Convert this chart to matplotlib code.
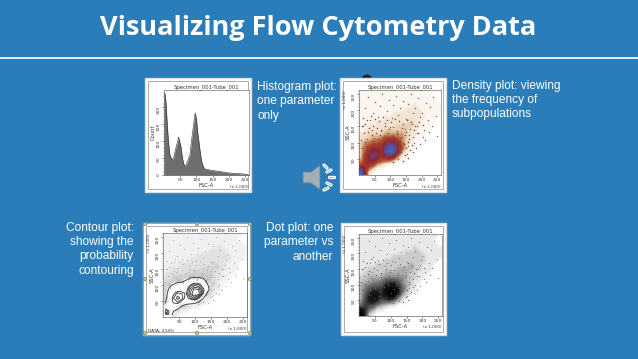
import numpy as np
import matplotlib
matplotlib.use('Agg')
import matplotlib.pyplot as plt
from matplotlib.colors import LinearSegmentedColormap
from matplotlib.patches import Rectangle, Polygon, Circle

W, H = 638, 359
BG = '#2a7db8'

title = 'Visualizing Flow Cytometry Data'
plot_title = 'Specimen_001-Tube_001'

# histogram: FSC-A (x 1000) and count
hist_x = [0, 3, 6, 9, 12, 15, 18, 22, 26, 30, 34, 38, 41, 45, 48, 52, 56, 60, 64, 68, 72, 76, 80,
          84, 88, 92, 96, 100, 104, 108, 112, 116, 120, 125, 130, 140, 150, 160, 170, 180, 190,
          200, 215, 230, 245, 260]
hist_y = [235, 240, 215, 165, 120, 85, 60, 50, 45, 52, 70, 85, 95, 112, 100, 85, 55, 35, 26, 30,
          38, 50, 60, 95, 125, 155, 183, 165, 125, 95, 65, 40, 28, 18, 17, 15, 13, 12, 11, 9, 8,
          6, 5, 4, 3, 2]
hist_ticks = [0, 50, 100, 150, 200]
fsc_ticks = [50, 100, 150, 200, 250]
ssc_ticks = [50, 100, 150, 200, 250]

# density of events, FSC across (0-262), SSC down from 262 to 0
events = np.array([
    [1, 1, 1, 1, 1, 1, 1, 1, 1, 1, 1, 1, 1, 1, 1, 1, 1, 1, 1, 0],
    [1, 1, 1, 1, 1, 1, 1, 1, 1, 1, 1, 1, 1, 1, 1, 1, 1, 1, 0, 0],
    [1, 1, 1, 1, 1, 1, 1, 1, 1, 1, 1, 1, 1, 1, 1, 1, 1, 1, 1, 0],
    [1, 1, 1, 1, 1, 1, 1, 1, 1, 1, 1, 1, 1, 2, 1, 1, 1, 1, 1, 1],
    [1, 1, 1, 1, 1, 1, 1, 1, 1, 1, 1, 2, 2, 2, 2, 1, 1, 1, 1, 1],
    [1, 1, 1, 1, 1, 1, 1, 1, 2, 2, 2, 2, 2, 2, 2, 2, 1, 1, 1, 1],
    [1, 1, 1, 1, 1, 1, 2, 2, 2, 2, 2, 2, 2, 2, 2, 2, 1, 1, 1, 0],
    [1, 1, 1, 1, 2, 2, 2, 2, 2, 2, 2, 2, 3, 2, 2, 1, 1, 1, 0, 0],
    [1, 1, 2, 2, 2, 2, 2, 2, 2, 3, 3, 3, 3, 2, 2, 1, 1, 1, 0, 0],
    [1, 2, 2, 2, 2, 2, 3, 3, 3, 3, 3, 3, 2, 2, 1, 1, 1, 0, 0, 0],
    [2, 2, 3, 3, 3, 3, 4, 4, 4, 4, 4, 3, 2, 2, 1, 1, 0, 0, 0, 0],
    [2, 3, 3, 4, 4, 5, 7, 8, 8, 6, 4, 3, 2, 1, 1, 0, 0, 0, 0, 0],
    [3, 4, 5, 6, 6, 7, 11, 14, 13, 9, 5, 3, 2, 1, 0, 0, 0, 0, 0, 0],
    [3, 5, 7, 9, 9, 9, 15, 19, 18, 12, 6, 3, 1, 1, 0, 0, 0, 0, 0, 0],
    [3, 6, 10, 13, 12, 10, 16, 21, 19, 11, 4, 2, 1, 0, 0, 0, 0, 0, 0, 0],
    [3, 7, 12, 15, 13, 9, 12, 15, 11, 5, 2, 1, 0, 0, 0, 0, 0, 0, 0, 0],
    [4, 8, 11, 12, 9, 6, 6, 6, 4, 2, 1, 0, 0, 0, 0, 0, 0, 0, 0, 0],
    [6, 9, 8, 7, 4, 3, 2, 1, 1, 0, 0, 0, 0, 0, 0, 0, 0, 0, 0, 0],
    [14, 10, 5, 3, 1, 1, 0, 0, 0, 0, 0, 0, 0, 0, 0, 0, 0, 0, 0, 0],
    [22, 9, 2, 1, 0, 0, 0, 0, 0, 0, 0, 0, 0, 0, 0, 0, 0, 0, 0, 0],
], dtype=float)

sparse_fsc = [30, 52, 74, 95, 118, 140, 165, 190, 215, 238, 20, 44, 66, 88, 110, 132, 155, 178, 200, 226,
              35, 60, 82, 104, 126, 150, 172, 196, 220, 246, 14, 40, 70, 98, 122, 146, 168, 186, 208, 232,
              48, 78, 108, 136, 160, 184, 204, 224, 250, 92, 116, 142, 176, 212, 128, 158, 194, 174, 152, 182]
sparse_ssc = [240, 225, 250, 232, 244, 228, 250, 236, 222, 240, 205, 190, 212, 198, 215, 205, 220, 208, 192, 210,
              170, 180, 160, 175, 185, 172, 190, 178, 168, 182, 150, 140, 135, 148, 130, 142, 156, 150, 140, 152,
              115, 112, 125, 118, 124, 128, 118, 132, 120, 100, 105, 98, 100, 108, 85, 88, 96, 72, 65, 84]

# events in the busier band around the two populations
band_fsc = [12, 25, 38, 50, 63, 76, 89, 102, 115, 128, 141, 154, 167, 180, 193, 206,
            8, 20, 33, 46, 58, 71, 84, 97, 110, 123, 136, 149, 162, 175, 188,
            16, 29, 42, 55, 68, 81, 94, 107, 120, 133, 146, 159, 172,
            6, 19, 27, 44, 61, 74, 92, 105, 118, 131, 144, 157, 170,
            10, 23, 36, 52, 66, 79, 112, 125, 138, 151, 164,
            14, 31, 48, 64, 86, 100, 121, 134, 147,
            40, 70, 108, 126, 140, 155]
band_ssc = [176, 168, 182, 172, 166, 178, 170, 162, 174, 166, 158, 170, 162, 150, 162, 154,
            150, 156, 144, 152, 146, 138, 150, 142, 148, 136, 146, 132, 142, 138, 128,
            128, 134, 122, 130, 124, 118, 128, 120, 126, 114, 124, 110, 118,
            108, 102, 112, 104, 110, 98, 106, 116, 100, 108, 96, 102, 94,
            84, 90, 82, 88, 78, 92, 86, 90, 80, 84, 76,
            62, 68, 58, 64, 60, 72, 66, 70, 62,
            34, 42, 40, 48, 44, 52]

labels = [
    ('Histogram plot:\none parameter\nonly', 257, 81, 'left'),
    ('Density plot: viewing\nthe frequency of\nsubpopulations', 452, 80, 'left'),
    ('Contour plot:\nshowing the\nprobability\ncontouring', 134, 222, 'right'),
    ('Dot plot: one\nparameter vs\nanother', 333, 222, 'right'),
]

density_cmap = LinearSegmentedColormap.from_list(
    'density', [(0, '#ffffff'), (0.06, '#f9f3ea'), (0.13, '#ead2b6'), (0.2, '#c27c52'), (0.3, '#a8402c'),
                (0.5, '#8e2430'), (0.72, '#5a4a9a'), (1, '#3c6ac8')])
dot_cmap = LinearSegmentedColormap.from_list(
    'dots', [(0, '#ffffff'), (0.06, '#e2e2e2'), (0.25, '#707070'), (0.55, '#1c1c1c'), (1, '#000000')])
grey_cmap = LinearSegmentedColormap.from_list('grey', ['#ffffff', '#b5b5b5'])


def px_axes(fig, x0, y0, x1, y1):
    return fig.add_axes([x0 / W, 1 - y1 / H, (x1 - x0) / W, (y1 - y0) / H])


def panel(fig, bg, box, plot, ylabel, xlabel, yticks, ymax):
    # white picture with thin grey frame, then the FACS axes inside it
    x0, y0, x1, y1 = box
    bg.add_patch(Rectangle((x0, y0), x1 - x0, y1 - y0, fc='white', ec='#dddddd', lw=1))
    bg.add_patch(Rectangle((x0 + 3, y0 + 3), x1 - x0 - 6, y1 - y0 - 6, fc='none', ec='#8a8a8a', lw=0.5))
    ax = px_axes(fig, *plot)
    ax.set_xlim(0, 262)
    ax.set_ylim(0, ymax)
    ax.set_xticks(fsc_ticks)
    ax.set_yticks(yticks)
    ax.set_xticks(np.arange(10, 262, 10), minor=True)
    ax.set_yticks(np.arange(0, ymax, 10), minor=True)
    ax.tick_params(labelsize=3.2, length=1.6, width=0.4, pad=0.6, colors='#333333')
    ax.tick_params(which='minor', length=0.9, width=0.3, colors='#555555')
    ax.tick_params(axis='y', labelrotation=90)
    for s in ax.spines.values():
        s.set_linewidth(0.4)
        s.set_color('#555555')
    ax.set_title(plot_title, fontsize=3.8, pad=1.2, color='#333333')
    ax.set_xlabel(xlabel, fontsize=3.8, labelpad=0.4, color='#333333')
    ax.set_ylabel(ylabel, fontsize=3.8, labelpad=0.8, color='#333333')
    ax.text(1.0, -0.14, '(x 1,000)', transform=ax.transAxes, fontsize=3.0, ha='right', va='center', color='#333333')
    if yticks is ssc_ticks:
        ax.text(-0.17, 1.0, '(x 1,000)', transform=ax.transAxes, fontsize=3.0, rotation=90, ha='center', va='top', color='#333333')
    return ax


def speaker(bg):
    bg.add_patch(Polygon([(303, 172), (311, 172), (320, 165), (320, 190), (311, 183), (303, 183)],
                         closed=True, fc='#a3aeb7', ec='#5c7f9c', lw=0.6))
    for (xa, ya, xb, yb) in [(324, 165, 327, 168), (327, 172, 331, 170), (329, 177, 334, 177),
                             (327, 183, 331, 185), (324, 190, 328, 188)]:
        bg.plot([xa, xb], [ya, yb], color='white', lw=2.4, solid_capstyle='round')
        bg.plot([xa, xb], [ya, yb], color='#7f95a8', lw=0.5)


def main():
    fig = plt.figure(figsize=(W / 100, H / 100), dpi=100, facecolor=BG)
    bg = fig.add_axes([0, 0, 1, 1])
    bg.set_xlim(0, W)
    bg.set_ylim(H, 0)
    bg.axis('off')

    bg.text(318.5, 28, title, color='white', fontsize=19.5, fontweight='bold', family='Open Sans', ha='center', va='center')
    bg.plot([0, W], [58, 58], color='white', lw=1.2)

    for text, x, y, ha in labels:
        bg.text(x, y, text, color='white', fontsize=8.6, family='Liberation Sans', ha=ha, va='top', linespacing=1.25)

    speaker(bg)

    # histogram
    ax = panel(fig, bg, (145, 78, 251, 192), (164, 90, 249, 175), 'Count', 'FSC-A', hist_ticks, 250)
    ax.fill_between(hist_x, hist_y, color='#6e6e6e', lw=0)
    ax.plot(hist_x, hist_y, color='#333333', lw=0.4)

    extent = [0, 262, 0, 262]

    # density
    bg.add_patch(Circle((367, 80), 5.5, fc='#1c2630', ec='none'))
    ax = panel(fig, bg, (340, 78, 446, 192), (359, 90, 441, 175), 'SSC-A', 'FSC-A', ssc_ticks, 262)
    ax.imshow(events, extent=extent, aspect='auto', cmap=density_cmap, vmin=0, vmax=22, interpolation='bilinear')
    ax.scatter(sparse_fsc, sparse_ssc, s=1.0, color='#8a5a3a', lw=0)
    ax.scatter(band_fsc, band_ssc, s=1.2, color='#8a4a30', lw=0)

    # contour: dots outside the outer line, white inside it
    ax = panel(fig, bg, (143, 223, 250, 335), (163, 233, 247, 317), 'SSC-A', 'FSC-A', ssc_ticks, 262)
    outside = np.where(events >= 5, 0, events)
    ax.imshow(outside, extent=extent, aspect='auto', cmap=grey_cmap, vmin=0, vmax=5, interpolation='bilinear')
    ax.scatter(sparse_fsc, sparse_ssc, s=0.6, color='#a0a0a0', lw=0)
    ax.scatter(band_fsc, band_ssc, s=0.6, color='#a0a0a0', lw=0)
    xs = (np.arange(20) + 0.5) * 262 / 20
    ys = 262 - (np.arange(20) + 0.5) * 262 / 20
    ax.contour(xs, ys, events, levels=[4.5, 10.5, 12, 14, 16, 18], colors='#333333', linewidths=0.6)
    bg.text(148, 331, 'DATA, 2345)', fontsize=3.2, ha='left', va='center', color='#333333', zorder=6)
    bg.add_patch(Rectangle((143, 223), 107, 112, fc='none', ec='#9a9a9a', lw=0.6))
    for hx in (145, 197, 250):
        for hy in (224, 279, 333):
            if hx != 197 or hy != 279:
                bg.add_patch(Circle((hx, hy), 1.7, fc='#b9c98a', ec='#6f7d4a', lw=0.4, zorder=6))

    # dot
    ax = panel(fig, bg, (341, 223, 446, 335), (359, 234, 442, 316), 'SSC-A', 'FSC-A', ssc_ticks, 262)
    ax.imshow(events, extent=extent, aspect='auto', cmap=dot_cmap, vmin=0, vmax=20, interpolation='bilinear')
    ax.scatter(sparse_fsc, sparse_ssc, s=0.7, color='#777777', lw=0)
    ax.scatter(band_fsc, band_ssc, s=0.8, color='#666666', lw=0)

    fig.savefig('out.png', dpi=100, facecolor=BG)


if __name__ == '__main__':
    main()
